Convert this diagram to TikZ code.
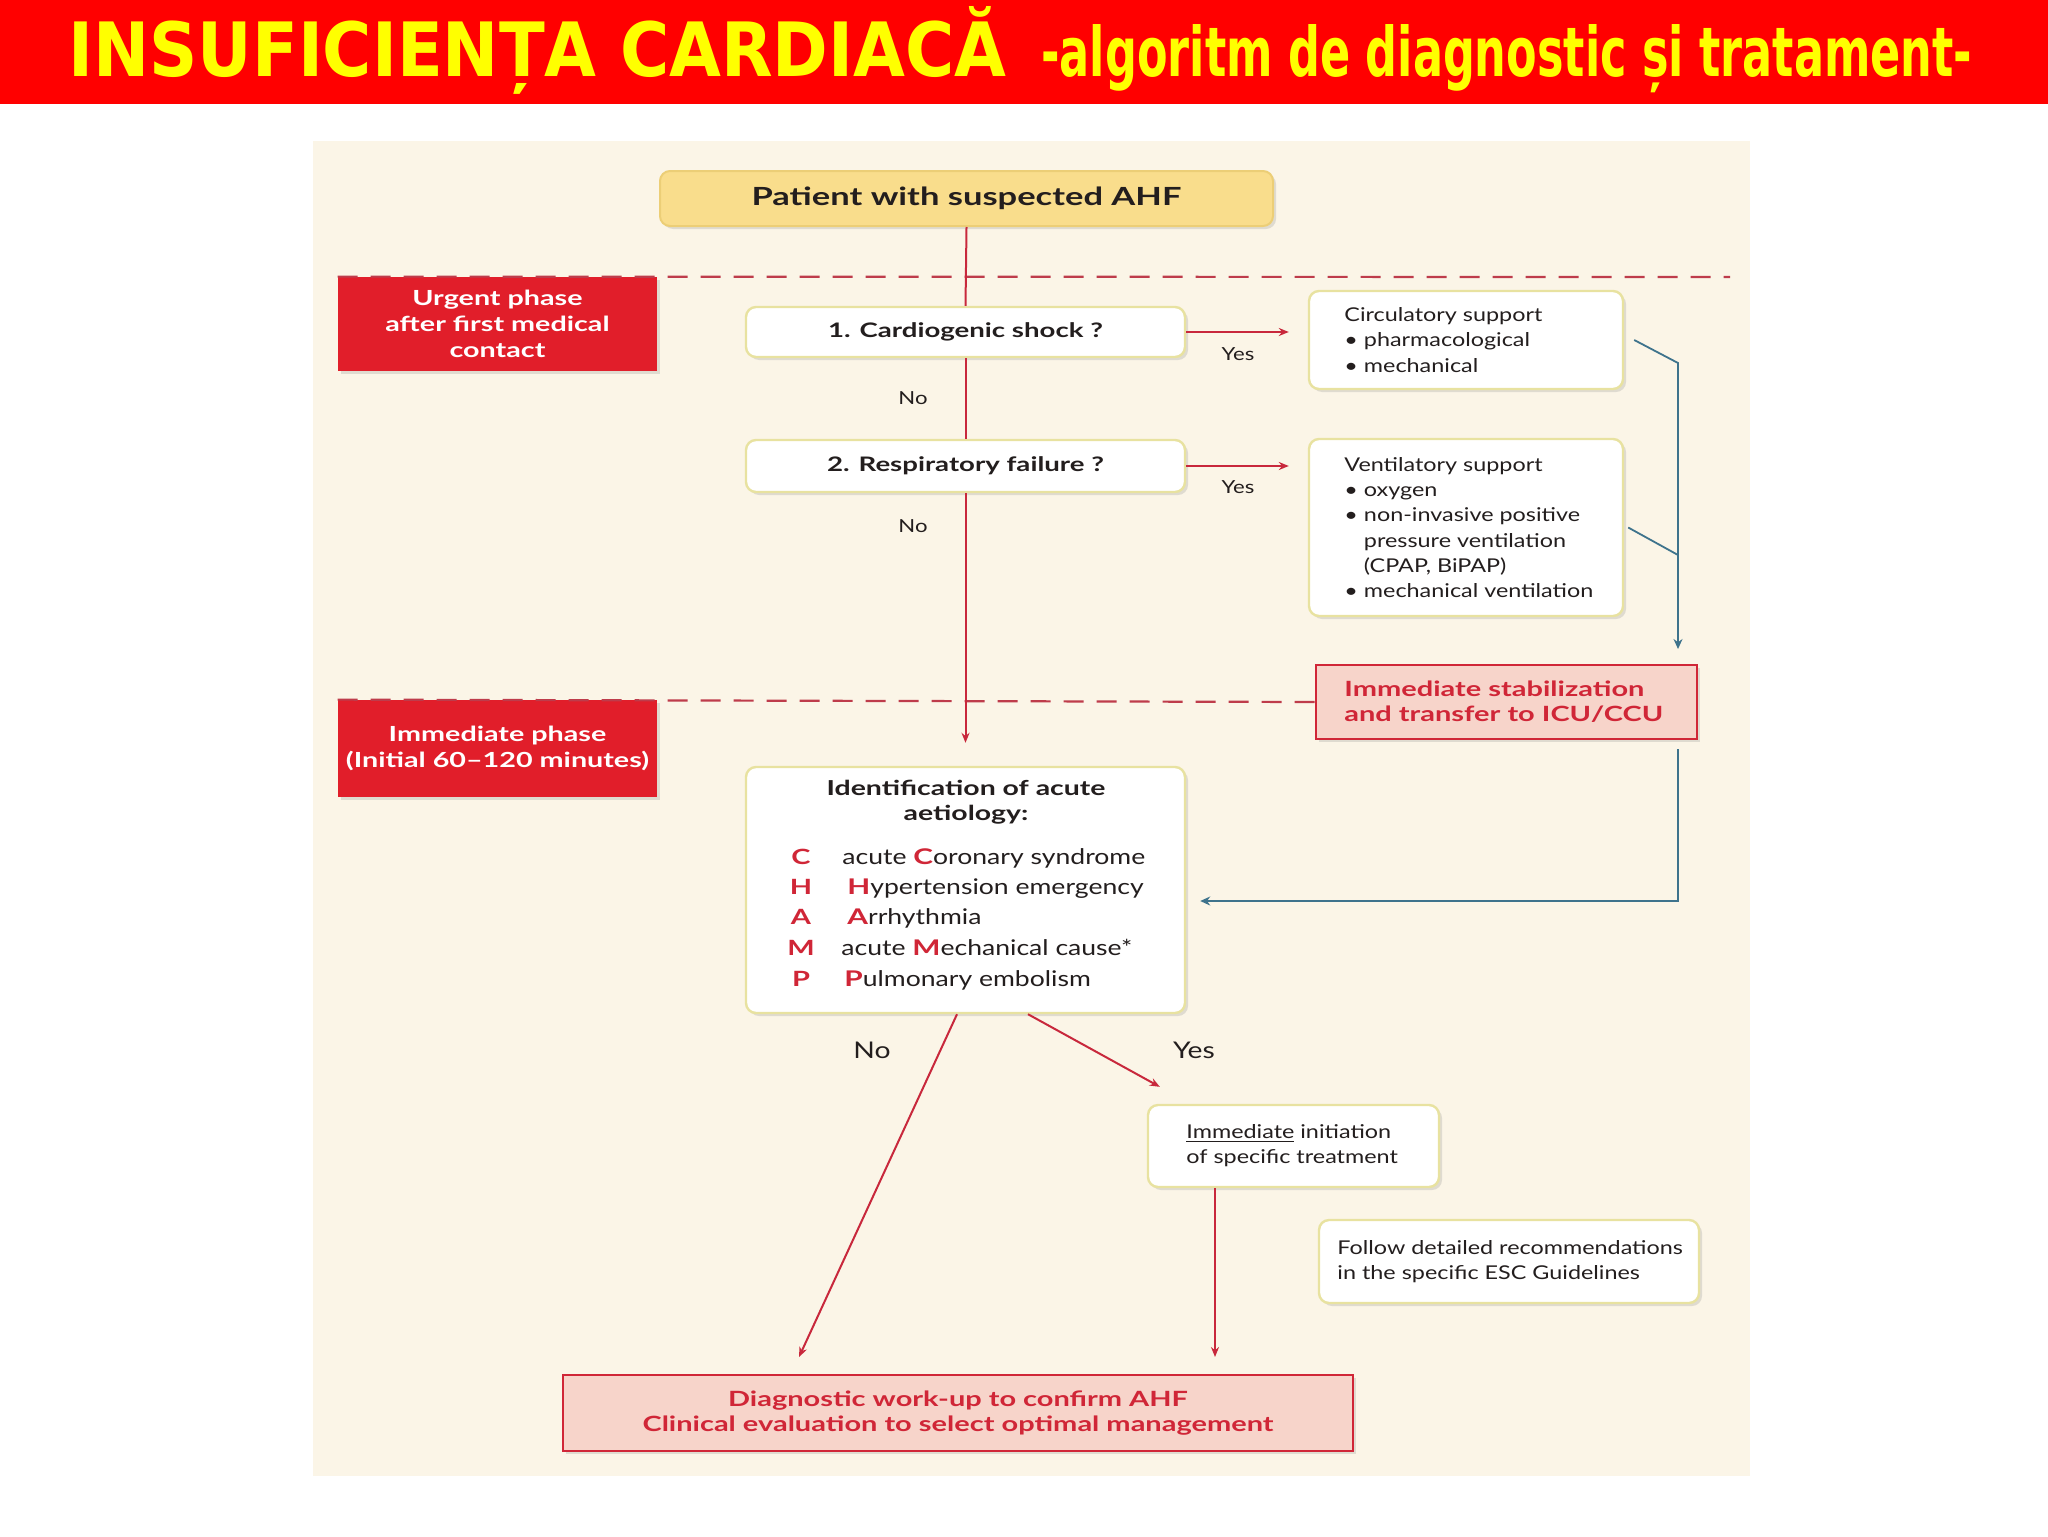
\documentclass[tikz,border=0pt]{standalone}
\usepackage{fontspec}
\setmainfont{Lato}[FakeStretch=1.23,BoldFeatures={FakeStretch=1.38}]
\newfontfamily\titlef{DejaVu Sans}
\usetikzlibrary{arrows.meta,shadows}
\definecolor{band}{RGB}{255,0,0}
\definecolor{ttl}{RGB}{255,255,0}
\definecolor{cream}{RGB}{251,245,231}
\definecolor{phase}{RGB}{225,30,42}
\definecolor{pbox}{RGB}{249,221,140}
\definecolor{pboxb}{RGB}{236,206,118}
\definecolor{wborder}{RGB}{232,226,160}
\definecolor{ln}{RGB}{200,40,60}
\definecolor{bl}{RGB}{62,115,140}
\definecolor{pinkf}{RGB}{247,212,202}
\definecolor{dred}{RGB}{208,38,55}
\definecolor{txt}{RGB}{35,30,30}
\definecolor{dsh}{RGB}{190,60,75}
\begin{document}
\begin{tikzpicture}[x=0.5pt,y=-0.5pt,
  shd/.style={drop shadow={shadow xshift=1.5pt,shadow yshift=-1.5pt,opacity=0.22}},
  wbox/.style={shd,draw=wborder,line width=1.2pt,fill=white,rounded corners=5pt,inner sep=0pt,text=txt},
  phasebox/.style={fill=phase,text=white,align=center,inner sep=0pt,font=\fontsize{10.4}{12.9}\selectfont\bfseries,shd},
  redbox/.style={shd,draw=dred,line width=1pt,fill=pinkf,text=dred,inner sep=0pt,font=\fontsize{10.5}{12.5}\selectfont\bfseries},
  con/.style={draw=ln,line width=1pt,-{Stealth[length=5pt,width=4pt]}},
  plain/.style={draw=ln,line width=1pt},
  bcon/.style={draw=bl,line width=0.9pt},
  dline/.style={draw=dsh,line width=1.1pt,dash pattern=on 10pt off 6.5pt},
  lbl/.style={text=txt,font=\fontsize{9}{11}\selectfont,inner sep=0pt},
  body/.style={font=\fontsize{9.5}{12.6}\selectfont,text=txt,inner sep=0pt,align=left,anchor=west}
]
\useasboundingbox (0,0) rectangle (2048,1536);
\fill[white] (0,0) rectangle (2048,1536);
\fill[band] (0,0) rectangle (2048,104);
\fill[cream] (313,141) rectangle (1750,1476);

% title
\node[anchor=base west,inner sep=0pt,text=ttl] (t1) at (68,77)
  {\resizebox{469pt}{35pt}{\titlef\bfseries INSUFICIENȚA CARDIACĂ}};
\node[anchor=base west,inner sep=0pt,text=ttl] (t2) at (1041,77)
  {\resizebox{465.5pt}{26pt}{\titlef\bfseries -algoritm de diagnostic și tratament-}};

% phase boxes and dashed lines
\coordinate (d1end) at (1730,277);
\node[phasebox,minimum width=159.5pt,minimum height=47pt] (urg) at (497.5,324)
  {Urgent phase\\after first medical\\contact};
\node[phasebox,minimum width=159.5pt,minimum height=48.5pt] (imm) at (497.5,748.5)
  {Immediate phase\\(Initial 60--120 minutes)};
\draw[dline] (urg.north west) -- (d1end);

% main boxes
\node[shd,draw=pboxb,line width=1pt,fill=pbox,rounded corners=5pt,minimum width=306.5pt,minimum height=27.5pt,
  text=txt,font=\fontsize{12.5}{14}\selectfont\bfseries] (pat) at (966.5,198.5) {Patient with suspected AHF};
\node[wbox,minimum width=219.5pt,minimum height=25pt,font=\fontsize{10}{12}\selectfont\bfseries] (shock) at (965.5,332) {1. Cardiogenic shock ?};
\node[wbox,minimum width=219.5pt,minimum height=26pt,font=\fontsize{10}{12}\selectfont\bfseries] (resp) at (965.5,466) {2. Respiratory failure ?};

\node[wbox,minimum width=157pt,minimum height=49pt] (circ) at (1466,340) {};
\node[body] (circt) at (1344,340)
  {Circulatory support\\• pharmacological\\• mechanical};
\node[wbox,minimum width=157pt,minimum height=88.5pt] (vent) at (1466,527.5) {};
\node[body] (ventt) at (1344,527.5)
  {Ventilatory support\\• oxygen\\• non-invasive positive\\\hphantom{• }pressure ventilation\\\hphantom{• }(CPAP, BiPAP)\\• mechanical ventilation};

\node[redbox,minimum width=190.5pt,minimum height=37pt] (stab) at (1506.5,702) {};
\node[body,text=dred,font=\fontsize{10.5}{12.5}\selectfont\bfseries] (stabt) at (1344,702)
  {Immediate stabilization\\and transfer to ICU/CCU};
\draw[dline] (imm.north west) -- (stab.west);

% aetiology box
\node[wbox,minimum width=219.5pt,minimum height=123pt] (aet) at (965.5,890) {};
\node[align=center,text=txt,inner sep=0pt,font=\fontsize{10.3}{12.6}\selectfont\bfseries] (aett) at (966,802)
  {Identification of acute\\aetiology:};
\begin{scope}[every node/.style={inner sep=0pt,font=\fontsize{10.8}{12}\selectfont}]
\node[anchor=base,text=dred,font=\fontsize{10.5}{12}\selectfont\bfseries] (lc) at (801,864) {C};
\node[anchor=base,text=dred,font=\fontsize{10.5}{12}\selectfont\bfseries] (lh) at (801,894) {H};
\node[anchor=base,text=dred,font=\fontsize{10.5}{12}\selectfont\bfseries] (la) at (801,924) {A};
\node[anchor=base,text=dred,font=\fontsize{10.5}{12}\selectfont\bfseries] (lm) at (801,955) {M};
\node[anchor=base,text=dred,font=\fontsize{10.5}{12}\selectfont\bfseries] (lp) at (801,986) {P};
\node[anchor=base west,text=txt] (rc) at (842,864) {acute \textcolor{dred}{\bfseries C}oronary syndrome};
\node[anchor=base west,text=txt] (rh) at (847,894) {\textcolor{dred}{\bfseries H}ypertension emergency};
\node[anchor=base west,text=txt] (ra) at (847,924) {\textcolor{dred}{\bfseries A}rrhythmia};
\node[anchor=base west,text=txt] (rm) at (841,955) {acute \textcolor{dred}{\bfseries M}echanical cause*};
\node[anchor=base west,text=txt] (rp) at (844,986) {\textcolor{dred}{\bfseries P}ulmonary embolism};
\end{scope}

\node[wbox,minimum width=145.5pt,minimum height=41pt] (init) at (1293.5,1146) {};
\node[body] (initt) at (1186,1146) {\underline{Immediate} initiation\\of specific treatment};
\node[wbox,minimum width=190pt,minimum height=41.5pt] (follow) at (1509,1261.5) {};
\node[body] (followt) at (1337,1261.5) {Follow detailed recommendations\\in the specific ESC Guidelines};
\node[redbox,minimum width=395pt,minimum height=38pt,align=center] (diag) at (958,1413)
  {Diagnostic work-up to confirm AHF\\Clinical evaluation to select optimal management};

% main vertical connectors
\draw[plain] (pat.south) -- (shock.north);
\draw[plain] (shock.south) -- (resp.north);
\draw[con,shorten >=11.5pt] (resp.south) -- (aet.north);
\draw[con,shorten >=9.5pt] (shock.east) -- (shock.east -| circ.west);
\draw[con,shorten >=9.5pt] (resp.east) -- (resp.east -| vent.west);

\node[lbl] (y1) at (1238,354) {Yes};
\node[lbl] (y2) at (1238,487) {Yes};
\node[lbl] (n1) at (913,398) {No};
\node[lbl] (n2) at (913,526) {No};

% blue connectors
\coordinate (j1) at (1678,363);
\coordinate (j2) at (1678,555);
\draw[bcon] ([xshift=5pt]circ.east) -- (j1) -- (j2);
\draw[bcon] ([xshift=2pt]vent.east) -- (j2);
\draw[bcon,-{Stealth[length=5pt,width=4.5pt]},shorten >=7.5pt] (j2) -- (j2 |- stab.north);
\draw[bcon,-{Stealth[length=5pt,width=4.5pt]},shorten <=4.5pt,shorten >=7pt] (stab.south -| j1) |- ([yshift=-5.5pt]aet.east);

% bottom connectors
\node[lbl,font=\fontsize{11.5}{13}\selectfont] (n3) at (872,1050) {No};
\node[lbl,font=\fontsize{11.5}{13}\selectfont] (y3) at (1194,1050) {Yes};
\draw[con] ([xshift=-4.25pt]aet.south) -- ([xshift=-79.5pt,yshift=8.5pt]diag.north);
\draw[con] ([xshift=31.25pt]aet.south) -- ([xshift=6.5pt,yshift=8.5pt]init.north west);
\draw[con,shorten >=8.5pt] ([xshift=-39.25pt]init.south) -- ([xshift=-39.25pt]init.south |- diag.north);
\end{tikzpicture}
\end{document}
